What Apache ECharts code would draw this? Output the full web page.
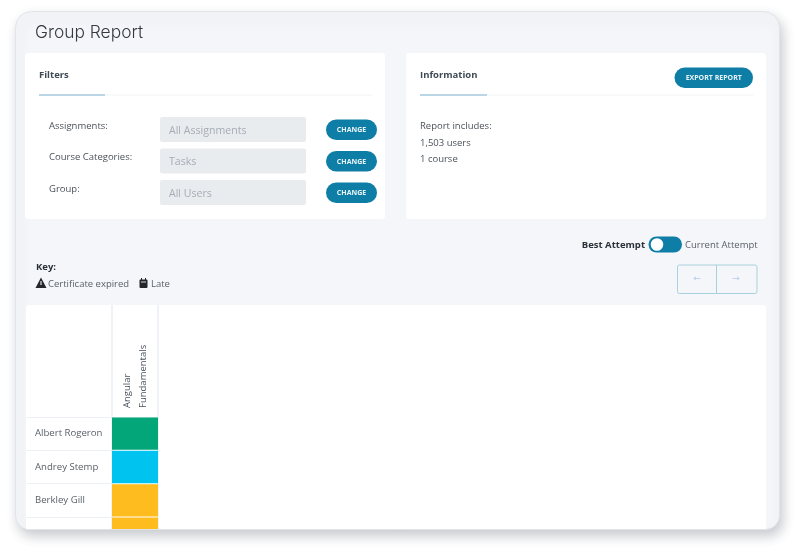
<!DOCTYPE html>
<html>
<head>
<meta charset="utf-8">
<title>Group Report</title>
<style>
  html, body { margin: 0; padding: 0; background: #fff; }
  #main { width: 798px; height: 555px; }
</style>
<script src="https://cdn.jsdelivr.net/npm/echarts@6/dist/echarts.min.js"></script>
</head>
<body>
<div id="main"></div>
<script>
// chart data
const courses = ['Angular\nFundamentals'];
const learners = ['Albert Rogeron', 'Andrey Stemp', 'Berkley Gill', ''];
const results = ['passed', 'inProgress', 'late', 'late'];
const visibleRows = 3.36; // the fourth row is cut off by the card

const filterLabels = ['Assignments:', 'Course Categories:', 'Group:'];
const filterValues = ['All Assignments', 'Tasks', 'All Users'];
const infoLines = ['Report includes:', '1,503 users', '1 course'];

const resultColors = { passed: '#03a678', inProgress: '#00c3f0', late: '#ffbc1f' };

const FONT = '"Open Sans", "Noto Sans", sans-serif';
const TEAL = '#0f7ea6';

function rect(x, y, w, h, fill, r, extra) {
  return Object.assign({
    type: 'rect', z: -10,
    shape: { x: x, y: y, width: w, height: h, r: r || 0 },
    style: { fill: fill }
  }, extra || {});
}
function line(x1, y1, x2, y2, color, width, z) {
  return {
    type: 'line', z: z || -9,
    shape: { x1: x1, y1: y1, x2: x2, y2: y2 },
    style: { stroke: color, lineWidth: width || 1 }
  };
}
function text(str, x, y, size, color, opts) {
  opts = opts || {};
  return {
    type: 'text', z: -8, x: x, y: y,
    style: {
      text: str,
      fill: color,
      font: (opts.weight || 'normal') + ' ' + size + 'px ' + (opts.family || FONT),
      textAlign: opts.align || 'left',
      textVerticalAlign: 'middle'
    }
  };
}
function pill(x, y, w, h, label) {
  return [
    rect(x, y, w, h, TEAL, h / 2),
    text(label, x + w / 2, y + h / 2 + 0.3, 7, '#e8f4f8', { weight: 'bold', align: 'center' })
  ];
}

let shell = [
  // outer card
  rect(15.5, 11.5, 764, 518, '#f4f6f9', [16, 16, 14, 14], {
    style: { fill: '#f4f6f9', stroke: '#e2e4e8', lineWidth: 1, shadowBlur: 12, shadowColor: 'rgba(60,70,90,0.28)', shadowOffsetX: 3, shadowOffsetY: 6 }
  }),
  text('Group Report', 35, 32.5, 17.4, '#333a40', { family: 'Inter, sans-serif', weight: '300' }),

  // filters panel
  rect(25, 53, 360, 166, '#fff', 3),
  text('Filters', 39, 75.5, 9.5, '#3e4a55', { weight: 'bold' }),
  line(105, 95, 372, 95, '#f0f2f4', 1),
  line(39, 95, 105, 95, '#a5c8dd', 1.6),

  // info panel
  rect(406, 53, 360, 166, '#fff', 3),
  text('Information', 420, 75.5, 9.5, '#3e4a55', { weight: 'bold' }),
  line(487, 95, 753, 95, '#f0f2f4', 1),
  line(420, 95, 487, 95, '#a5c8dd', 1.6),

  // table panel
  rect(26, 305, 740, 224, '#fff', [3, 3, 0, 0]),
  line(112, 305, 112, 529, '#dfe5ee', 1),
  line(158, 305, 158, 529, '#dfe5ee', 1),

  // attempt switch
  text('Best Attempt', 645, 245, 9.5, '#2b3138', { weight: 'bold', align: 'right' }),
  rect(648.5, 236.5, 33.5, 16, TEAL, 8),
  { type: 'circle', z: -8, shape: { cx: 657, cy: 244.5, r: 6.3 }, style: { fill: '#fff' } },
  text('Current Attempt', 685, 245, 9.5, '#5a6169'),

  // pager
  rect(677.5, 265, 79.5, 28.5, '#f4f6f9', 2, {
    style: { fill: '#f4f6f9', stroke: '#a9d0de', lineWidth: 1 }
  }),
  line(716.5, 265, 716.5, 293.5, '#a9d0de', 1),
  text('←', 697, 279, 9, '#b4cbe8', { align: 'center', family: '"DejaVu Sans", sans-serif' }),
  text('→', 736, 279, 9, '#b4cbe8', { align: 'center', family: '"DejaVu Sans", sans-serif' }),

  // key
  text('Key:', 36, 267, 9.5, '#2b3138', { weight: 'bold' }),
  { type: 'polygon', z: -8, shape: { points: [[41, 277.5], [46.5, 288], [35.5, 288]] }, style: { fill: '#23272b' } },
  line(41, 281, 41, 285, '#fff', 1, -7),
  text('Certificate expired', 48, 284, 9.5, '#5a6169'),
  rect(139.5, 279.5, 8, 8.5, '#23272b', 1),
  line(141.5, 278, 141.5, 280, '#23272b', 1),
  line(145.5, 278, 145.5, 280, '#23272b', 1),
  line(141, 282, 146, 282, '#fff', 0.8, -7),
  text('Late', 151, 284, 9.5, '#5a6169'),

  // export
  ...pill(674.5, 67.5, 78.5, 20.5, 'EXPORT REPORT')
];

const inputTops = [117, 148.5, 180];
const pillTops = [119.5, 151, 182.5];
const labelYs = [126, 157.5, 189];
filterLabels.forEach(function (label, i) {
  shell.push(text(label, 49, labelYs[i], 9.5, '#4b525a'));
  shell.push(rect(160, inputTops[i], 146, 25, '#e9ecef', 2));
  shell.push(text(filterValues[i], 169, inputTops[i] + 13.5, 10.6, '#a5adb6'));
  shell = shell.concat(pill(326, pillTops[i], 51, 20.5, 'CHANGE'));
});
const infoYs = [126.5, 143, 159.5];
infoLines.forEach(function (str, i) {
  shell.push(text(str, 420, infoYs[i], 9.5, '#4b525a'));
});

const chart = echarts.init(document.getElementById('main'));

chart.setOption({
  animation: false,
  backgroundColor: '#fff',
  graphic: { elements: shell },
  grid: { left: 112, top: 417, width: 46, height: 112 },
  xAxis: {
    type: 'category',
    position: 'top',
    data: courses,
    axisTick: { show: false },
    axisLine: { lineStyle: { color: '#eceff3' } },
    axisLabel: {
      rotate: 90,
      margin: 9,
      interval: 0,
      fontFamily: FONT,
      fontSize: 9.5,
      lineHeight: 16,
      color: '#4b525a'
    }
  },
  yAxis: {
    type: 'value',
    inverse: true,
    min: 0,
    max: visibleRows,
    interval: 1,
    splitLine: { show: false },
    axisLine: { show: false },
    axisTick: {
      show: true,
      length: 85,
      customValues: [0, 1, 2, 3],
      lineStyle: { color: '#eceff3' }
    },
    axisLabel: {
      customValues: [0.5, 1.5, 2.5],
      formatter: function (v) { return learners[Math.floor(v)]; },
      align: 'left',
      margin: 77,
      fontFamily: FONT,
      fontSize: 9.6,
      color: '#5a6169'
    }
  },
  series: [{
    type: 'custom',
    data: learners.map(function (name, i) { return [courses[0], i]; }),
    encode: { x: 0, y: 1 },
    renderItem: function (params, api) {
      const top = api.coord([api.value(0), api.value(1)]);
      const bottom = api.coord([api.value(0), api.value(1) + 1]);
      const w = api.size([1, 0])[0];
      const shape = echarts.graphic.clipRectByRect(
        { x: top[0] - w / 2, y: top[1] + 0.5, width: w, height: bottom[1] - top[1] - 1 },
        params.coordSys
      );
      return shape && {
        type: 'rect',
        shape: shape,
        style: { fill: resultColors[results[params.dataIndex]] }
      };
    }
  }]
});
</script>
</body>
</html>
